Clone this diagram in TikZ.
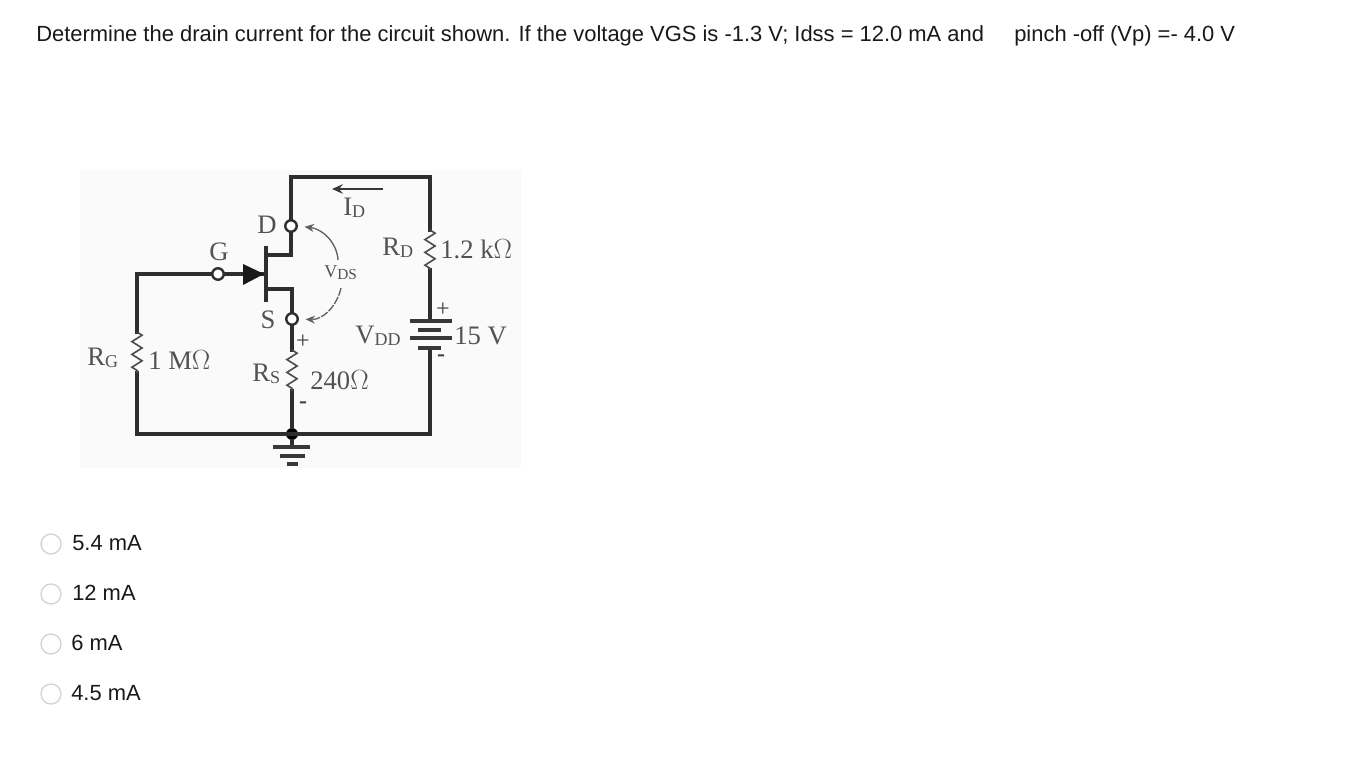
\documentclass[tikz,border=0pt]{standalone}
\usepackage{fontspec}
\setmainfont{Liberation Sans}
\newfontfamily\cserif{Liberation Serif}
\usetikzlibrary{decorations.pathmorphing,arrows.meta}
\tikzset{
 x=0.75pt,y=-0.75pt,
 wire/.style={line width=2.4pt,color=black!82,line cap=rect},
 thinw/.style={line width=1.8pt,color=black!78},
 plate/.style={line width=2.4pt,color=black!78},
 res/.style={line width=1.2pt,color=black!70,decorate,decoration={zigzag,segment length=9.6pt,amplitude=3.8pt}},
 term/.style={circle,draw=black!82,fill=white,line width=1.8pt,minimum size=8.6pt,inner sep=0pt},
 qtext/.style={font=\fontsize{16.45}{18}\selectfont,text=black!90,anchor=west,inner sep=0pt},
 lab/.style={font=\cserif\fontsize{20}{22}\selectfont,text=black!68,anchor=west,inner sep=0pt},
 sgn/.style={font=\cserif\fontsize{18}{20}\selectfont,text=black!75,inner sep=0pt},
 sgnm/.style={font=\cserif\bfseries\fontsize{18}{20}\selectfont,text=black!75,inner sep=0pt},
 radio/.style={circle,draw=black!18,fill=white,line width=0.9pt,minimum size=15pt,inner sep=0pt},
 vcurve/.style={line width=1pt,color=black!62},
 vtip/.style={-{Stealth[length=7pt,width=6pt]},shorten >=5pt}
}
\newcommand{\subs}[1]{{\fontsize{13.5}{14}\selectfont\raisebox{-0.25ex}{#1}}}
\begin{document}
\begin{tikzpicture}
\useasboundingbox (0,0) rectangle (1346,762);
\fill[white] (0,0) rectangle (1346,762);
\fill[black!2] (80,170) rectangle (521,468);

% question
\node[qtext] (q1) at (36,36) {Determine the drain current for the circuit shown. If the voltage VGS is -1.3 V; Idss = 12.0 mA and};
\node[qtext] (q2) at (1014,36) {pinch -off (Vp) =- 4.0 V};

% answers
\node[radio] (r1) at (51,544) {};
\node[radio] (r2) at (51,594) {};
\node[radio] (r3) at (51,644) {};
\node[radio] (r4) at (51,694) {};
\node[qtext] (a1) at (72,543) {5.4 mA};
\node[qtext] (a2) at (72,593) {12 mA};
\node[qtext] (a3) at (71,643) {6 mA};
\node[qtext] (a4) at (71,693) {4.5 mA};

% named points
\coordinate (tl) at (291,177);
\coordinate (tr) at (430,177);
\coordinate (rdt) at (430,230);
\coordinate (rdb) at (430,270);
\coordinate (batt) at (430,321);
\coordinate (batb) at (430,348);
\coordinate (br) at (430,434);
\coordinate (bl) at (137,434);
\coordinate (gl) at (137,274);
\coordinate (rgt) at (137,332);
\coordinate (rgb) at (137,373);
\coordinate (rst) at (292,350);
\coordinate (rsb) at (292,391);
\coordinate (gnd) at (292,447);
\coordinate (bart) at (266,248);
\coordinate (barb) at (266,300);
\coordinate (dk) at (291,255);
\coordinate (dj) at (266,255);
\coordinate (sk) at (292,289);
\coordinate (sj) at (266,289);
\coordinate (gj) at (264,274);

\node[term] (G) at (218,274) {};
\node[term] (D) at (291,226) {};
\node[term] (S) at (292,319) {};
\node[circle,fill=black,minimum size=9pt,inner sep=0pt] (J) at (292,434) {};

% wires
\draw[wire] (D.north) -- (tl) -- (tr) -- (rdt);
\draw[wire] (rdb) -- (batt);
\draw[wire] (batb) -- (br) -- (bl) -- (rgb);
\draw[wire] (rgt) -- (gl) -- (G.west);
\draw[wire] (G.east) -- (gj);
\draw[wire] (D.south) -- (dk) -- (dj);
\draw[wire] (S.north) -- (sk) -- (sj);
\draw[wire] (bart) -- (barb);
\draw[wire] (S.south) -- (rst);
\draw[wire] (rsb) -- (J);
\draw[wire] (J) -- (gnd);

% gate arrow
\fill[black!90] (243,264) -- (264,274) -- (243,285) -- cycle;

% resistors
\draw[res] (rdt) -- (rdb);
\draw[res] (rgt) -- (rgb);
\draw[res] (rst) -- (rsb);

% battery
\draw[plate] (410,321) -- (452,321);
\draw[plate] (418,330) -- (441,330);
\draw[plate] (410,338) -- (452,338);
\draw[plate] (418,348) -- (441,348);

% ground
\draw[plate] (273,447) -- (310,447);
\draw[plate] (280,456) -- (305,456);
\draw[plate] (287,464) -- (298,464);

% current arrow
\coordinate (ia) at (383,189);
\coordinate (ib) at (332,189);
\draw[thinw,-{Stealth[length=8pt,width=7pt]}] (ia) -- (ib);

% VDS curves
\coordinate (vu) at (338,260);
\coordinate (vl) at (341,288);
\draw[vcurve,vtip] (vu) .. controls (337,243) and (323,229) .. (D.east);
\draw[vcurve,dash pattern=on 6pt off 1pt,vtip] (vl) .. controls (337,306) and (323,320) .. (S.east);

% labels
\node[lab,anchor=center] (lG) at (219,252) {G};
\node[lab,anchor=center] (lD) at (267,225) {D};
\node[lab,anchor=center] (lS) at (268,320) {S};
\node[lab] (lI) at (343,208) {I\subs{D}};
\node[lab,font=\cserif\fontsize{13.5}{14}\selectfont] (lV) at (324,273) {V{\fontsize{11.5}{12}\selectfont\raisebox{-0.25ex}{DS}}};
\node[lab] (lRD) at (382,248) {R\subs{D}};
\node[lab] (vRD) at (440,249) {1.2 k$\Omega$};
\node[lab] (lVDD) at (355,336) {V\subs{DD}};
\node[lab] (v15) at (454,336) {15 V};
\node[lab] (lRG) at (87,358) {R\subs{G}};
\node[lab] (vRG) at (148,360) {1 M$\Omega$};
\node[lab] (lRS) at (252,374) {R\subs{S}};
\node[lab] (vRS) at (310,380) {240$\Omega$};
\node[sgn] (p1) at (443,310) {+};
\node[sgnm] (m1) at (441,358) {-};
\node[sgn] (p2) at (303,342) {+};
\node[sgnm] (m2) at (303,405) {-};
\end{tikzpicture}
\end{document}
